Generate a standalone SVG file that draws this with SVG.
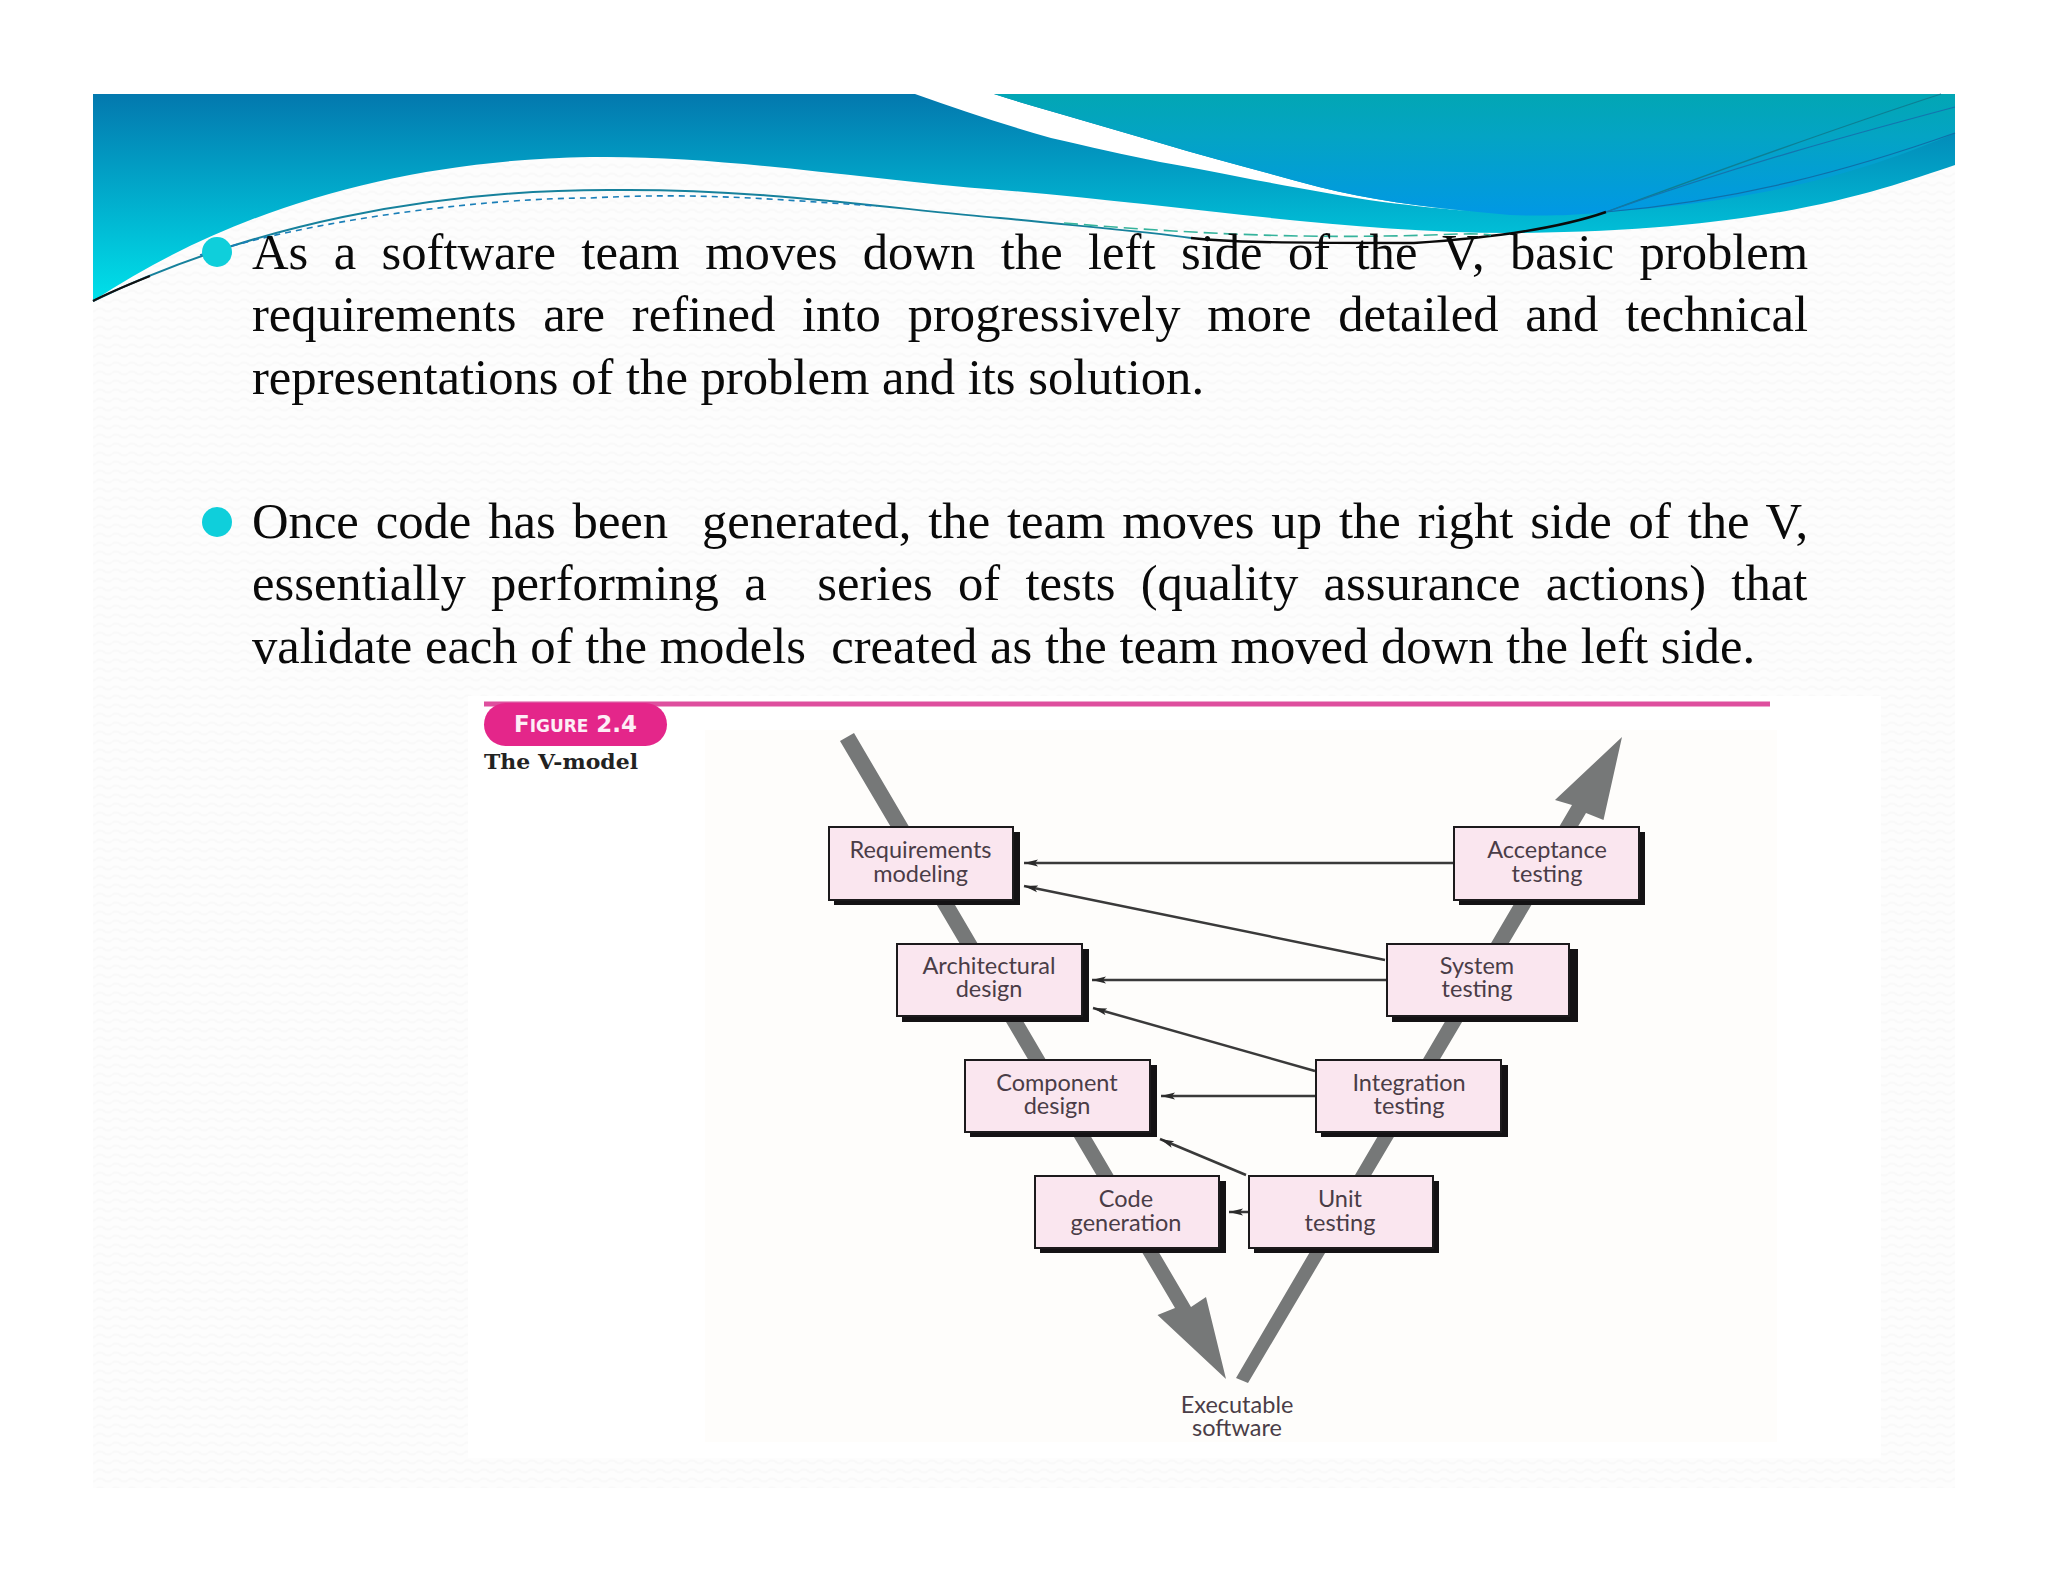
<svg xmlns="http://www.w3.org/2000/svg" width="2048" height="1582" viewBox="0 0 2048 1582">
<style>
.p{font-family:"Liberation Serif",serif;font-size:50px;fill:#0a0a0a;white-space:pre}
.b{fill:#fae6ef;stroke:#1c1a1c;stroke-width:2}
.s{fill:#141214}
.t{font-family:"Lato","Liberation Sans",sans-serif;font-size:23.5px;fill:#4a3d47;text-anchor:middle}
.c{fill:none;stroke:#3a3a3a;stroke-width:2.5;marker-end:url(#ah)}
.v{fill:#767878}
</style>
<defs>
<linearGradient id="g1" gradientUnits="userSpaceOnUse" x1="0" y1="94" x2="0" y2="300"><stop offset="0" stop-color="#0378ae"/><stop offset="1" stop-color="#00e0ea"/></linearGradient>
<linearGradient id="g2" gradientUnits="userSpaceOnUse" x1="0" y1="94" x2="0" y2="215"><stop offset="0" stop-color="#02a6b4"/><stop offset=".35" stop-color="#04a4c4"/><stop offset="1" stop-color="#0198e4"/></linearGradient>
<marker id="ah" markerUnits="userSpaceOnUse" markerWidth="16" markerHeight="9" refX="14" refY="4" orient="auto"><path d="M0 .5L14 4L0 7.5L3 4Z" fill="#2a2a2a"/></marker>
<pattern id="tx" patternUnits="userSpaceOnUse" width="16" height="9"><rect width="16" height="9" fill="#fdfdfd"/><path d="M0 4Q4 1 8 4T16 4" fill="none" stroke="#f9f9f9" stroke-width="2"/></pattern>
</defs>
<rect width="2048" height="1582" fill="#fff"/>
<rect x="93" y="94" width="1862" height="1394" fill="url(#tx)"/>
<rect x="468" y="696" width="1413" height="762" fill="#fff"/>
<rect x="705" y="730" width="1072" height="712" fill="#fefdfb"/>
<g id="header">
<path d="M93 94H1955V165C1880 190 1770 232 1510 233C1340 232 1180 205 1000 190C850 178 720 155 590 157C400 160 230 210 93 301Z" fill="url(#g1)"/>
<path d="M915 94C960 110 1005 125 1051 138C1090 147 1125 155 1160 162C1195 168 1225 174 1255 180C1300 188 1340 196 1383 202C1415 206 1445 209 1478 212L1510 215L1478 212C1420 206 1370 200 1319 187C1265 172 1210 158 1160 143C1128 134 1096 124 1064 115C1040 108 1015 101 994 94Z" fill="#fff"/>
<path d="M994 94H1955V133C1880 165 1780 200 1606 212C1570 216 1540 216 1510 215L1478 212C1420 206 1370 200 1319 187C1265 172 1210 158 1160 143C1128 134 1096 124 1064 115C1040 108 1015 101 994 94Z" fill="url(#g2)"/>
<g fill="none">
<path d="M93 301C250 225 430 190 609 190C760 188 900 210 1000 218C1100 228 1150 232 1191 238" stroke="#16819c" stroke-width="2"/>
<path d="M1191 238C1230 242 1268 243 1414 243C1491 238 1560 228 1606 212" stroke="#0a0a0a" stroke-width="2.4"/>
<path d="M93 301C110 292 130 284 150 276" stroke="#111" stroke-width="2"/>
<path d="M200 255C330 215 500 198 590 198C700 192 780 200 877 206" stroke="#1a7fb8" stroke-width="1.6" stroke-dasharray="6 5"/>
<path d="M1064 223C1170 232 1280 238 1383 236C1430 236 1470 232 1491 235" stroke="#35b39c" stroke-width="1.6" stroke-dasharray="14 6"/>
<path d="M1606 212C1720 170 1830 130 1941 94" stroke="#0d7f94" stroke-width="1.3"/>
<path d="M1606 212C1740 165 1850 135 1955 107" stroke="#1474ae" stroke-width="1.2"/>
<path d="M1606 212C1740 200 1850 170 1955 133" stroke="#0f6fa8" stroke-width="1.2"/>
</g>
</g>
<g id="bullets" fill="#0fcfdb"><circle cx="217" cy="252" r="15"/><circle cx="217" cy="522" r="15"/></g>
<g id="body">
<text class="p" transform="translate(252 269) scale(1.013 1)" style="word-spacing:12.6px">As a software team moves down the left side of the V, basic problem</text>
<text class="p" transform="translate(252 331) scale(1.013 1)" style="word-spacing:14px">requirements are refined into progressively more detailed and technical</text>
<text class="p" transform="translate(252 394) scale(1.013 1)">representations of the problem and its solution.</text>
<text class="p" transform="translate(252 538) scale(1.013 1)" style="word-spacing:4.17px">Once code has been  generated, the team moves up the right side of the V,</text>
<text class="p" transform="translate(252 600) scale(1.013 1)" style="word-spacing:12.5px">essentially performing a  series of tests (quality assurance actions) that</text>
<text class="p" transform="translate(252 663) scale(1.013 1)">validate each of the models  created as the team moved down the left side.</text>
</g>
<g id="figure-title">
<rect x="484" y="701.500" width="1286" height="5" fill="#de4f9e"/>
<rect x="484" y="703" width="183" height="43" rx="21.500" fill="#e4268a"/>
<text x="514" y="732" font-family="'DejaVu Sans',sans-serif" font-weight="700" font-size="23" fill="#fdeef6" textLength="123" lengthAdjust="spacingAndGlyphs">F<tspan font-size="17">IGURE</tspan> 2.4</text>
<text x="484" y="769" font-family="'DejaVu Serif',serif" font-weight="700" font-size="21" fill="#222" textLength="154" lengthAdjust="spacingAndGlyphs">The V-model</text>
</g>
<g id="v-shape">
<path class="v" d="M840 741L854 733L1191 1307L1206 1297L1226 1379L1157.500 1315L1175 1308Z"/>
<path class="v" d="M1236 1378L1248 1383L1586 813L1603.500 820L1622 737L1555 800L1572 805Z"/>
</g>
<g id="connectors">
<path class="c" d="M1453 863H1024"/>
<path class="c" d="M1385 960L1024 886"/>
<path class="c" d="M1386 980H1092"/>
<path class="c" d="M1315 1071L1093 1008"/>
<path class="c" d="M1315 1096H1161"/>
<path class="c" d="M1246 1175L1160 1139"/>
<path class="c" d="M1248 1212H1229"/>
</g>
<g id="req"><rect class="s" x="834" y="832" width="186" height="73"/><rect class="b" x="829" y="827" width="184" height="73"/><text class="t" x="920.500" y="858">Requirements</text><text class="t" x="920.500" y="882">modeling</text></g>
<g id="arch"><rect class="s" x="902" y="949" width="187" height="73"/><rect class="b" x="897" y="944" width="185" height="72"/><text class="t" x="989" y="974">Architectural</text><text class="t" x="989" y="997">design</text></g>
<g id="comp"><rect class="s" x="970" y="1065" width="187" height="72"/><rect class="b" x="965" y="1060" width="185" height="72"/><text class="t" x="1057" y="1091">Component</text><text class="t" x="1057" y="1114">design</text></g>
<g id="code"><rect class="s" x="1040" y="1181" width="186" height="72"/><rect class="b" x="1035" y="1176" width="184" height="72"/><text class="t" x="1126" y="1207">Code</text><text class="t" x="1126" y="1231">generation</text></g>
<g id="unit"><rect class="s" x="1254" y="1181" width="185" height="72"/><rect class="b" x="1249" y="1176" width="184" height="72"/><text class="t" x="1340" y="1207">Unit</text><text class="t" x="1340" y="1231">testing</text></g>
<g id="integ"><rect class="s" x="1321" y="1065" width="187" height="72"/><rect class="b" x="1316" y="1060" width="185" height="72"/><text class="t" x="1409" y="1091">Integration</text><text class="t" x="1409" y="1114">testing</text></g>
<g id="sys"><rect class="s" x="1392" y="949" width="186" height="73"/><rect class="b" x="1387" y="944" width="182" height="72"/><text class="t" x="1477" y="974">System</text><text class="t" x="1477" y="997">testing</text></g>
<g id="acc"><rect class="s" x="1459" y="832" width="186" height="73"/><rect class="b" x="1454" y="827" width="185" height="73"/><text class="t" x="1547" y="858">Acceptance</text><text class="t" x="1547" y="882">testing</text></g>
<g id="exe"><text class="t" x="1237" y="1413">Executable</text><text class="t" x="1237" y="1436">software</text></g>
</svg>
